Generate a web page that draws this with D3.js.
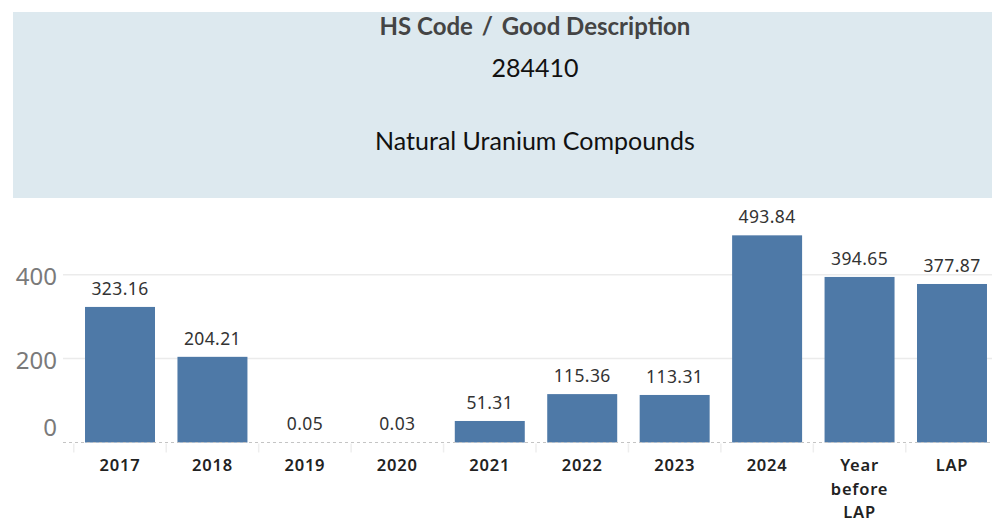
<!DOCTYPE html>
<html>
<head>
<meta charset="utf-8">
<script src="https://cdn.jsdelivr.net/npm/d3@7"></script>
<style>
  body { margin: 0; background: #fff; }
  svg { display: block; }
</style>
</head>
<body>
<svg id="chart" width="992" height="522"></svg>
<script>
// data
let categories = ["2017", "2018", "2019", "2020", "2021", "2022", "2023", "2024", "Year before LAP", "LAP"];
let values = [323.16, 204.21, 0.05, 0.03, 51.31, 115.36, 113.31, 493.84, 394.65, 377.87];
let yTicks = [0, 200, 400];

let svg = d3.select("#chart");

// header panel
svg.append("rect")
  .attr("x", 13).attr("y", 12)
  .attr("width", 979).attr("height", 186)
  .attr("fill", "#dde9ef");

let headerFont = "Lato, 'Open Sans', sans-serif";
svg.append("text")
  .attr("x", 535).attr("y", 35)
  .attr("text-anchor", "middle")
  .style("font-family", headerFont)
  .style("font-weight", "bold")
  .style("font-size", "24px")
  .attr("fill", "#444")
  .text("HS Code \u2009/\u2009 Good Description");
svg.append("text")
  .attr("x", 535).attr("y", 77)
  .attr("text-anchor", "middle")
  .style("font-family", headerFont)
  .style("font-size", "25px")
  .attr("fill", "#111")
  .text("284410");
svg.append("text")
  .attr("x", 535).attr("y", 150)
  .attr("text-anchor", "middle")
  .style("font-family", headerFont)
  .style("font-size", "25px")
  .attr("fill", "#111")
  .text("Natural Uranium Compounds");

// scales
let x = d3.scaleBand()
  .domain(categories)
  .range([73, 999])
  .paddingInner(0.243)
  .paddingOuter(0.13);

let y = d3.scaleLinear()
  .domain([0, 400])
  .range([442.5, 274.7]);

let font = "'Noto Sans', 'Open Sans', sans-serif";

// gridlines
svg.append("g")
  .selectAll("line")
  .data(yTicks.filter(d => d > 0))
  .join("line")
  .attr("x1", 63).attr("x2", 992)
  .attr("y1", d => y(d)).attr("y2", d => y(d))
  .attr("stroke", "#ebebeb")
  .attr("stroke-width", 1.5);

// y tick labels
svg.append("g")
  .selectAll("text")
  .data(yTicks)
  .join("text")
  .attr("x", 57)
  .attr("y", d => y(d) + (d === 0 ? -15 : 2))
  .attr("dy", "0.35em")
  .attr("text-anchor", "end")
  .style("font-family", font)
  .style("font-size", "24px")
  .attr("fill", "#7a7a7a")
  .text(d => d);

// bars
svg.append("g")
  .selectAll("rect")
  .data(values)
  .join("rect")
  .attr("x", (d, i) => x(categories[i]))
  .attr("width", x.bandwidth())
  .attr("y", d => y(d))
  .attr("height", d => y(0) - y(d))
  .attr("fill", "#4e79a7");

// value labels
svg.append("g")
  .selectAll("text")
  .data(values)
  .join("text")
  .attr("x", (d, i) => x(categories[i]) + x.bandwidth() / 2)
  .attr("y", d => y(d) - 12)
  .attr("text-anchor", "middle")
  .style("font-family", font)
  .style("font-size", "17.5px")
  .style("letter-spacing", "0.4px")
  .attr("fill", "#333")
  .text(d => d.toFixed(2));

// baseline
svg.append("line")
  .attr("x1", 63).attr("x2", 992)
  .attr("y1", y(0)).attr("y2", y(0))
  .attr("stroke", "#c4c4c4")
  .attr("stroke-dasharray", "3,3");

// category separators below the axis
let gap = (x.step() - x.bandwidth()) / 2;
svg.append("g")
  .selectAll("line")
  .data(categories)
  .join("line")
  .attr("x1", d => x(d) - gap).attr("x2", d => x(d) - gap)
  .attr("y1", y(0) + 1).attr("y2", y(0) + 10)
  .attr("stroke", "#eeeeee")
  .attr("stroke-width", 1.5);

// category labels (wrapped)
let wrap = { "Year before LAP": ["Year", "before", "LAP"] };
svg.append("g")
  .selectAll("text")
  .data(categories)
  .join("text")
  .attr("x", d => x(d) + x.bandwidth() / 2)
  .attr("y", 471)
  .attr("text-anchor", "middle")
  .style("font-family", font)
  .style("font-weight", "600")
  .style("font-size", "16.5px")
  .style("letter-spacing", "0.8px")
  .attr("fill", "#222")
  .each(function(d) {
    let lines = wrap[d] || [d];
    d3.select(this).selectAll("tspan")
      .data(lines)
      .join("tspan")
      .attr("x", x(d) + x.bandwidth() / 2)
      .attr("dy", (l, j) => j === 0 ? 0 : 23.5)
      .text(l => l);
  });
</script>
</body>
</html>
